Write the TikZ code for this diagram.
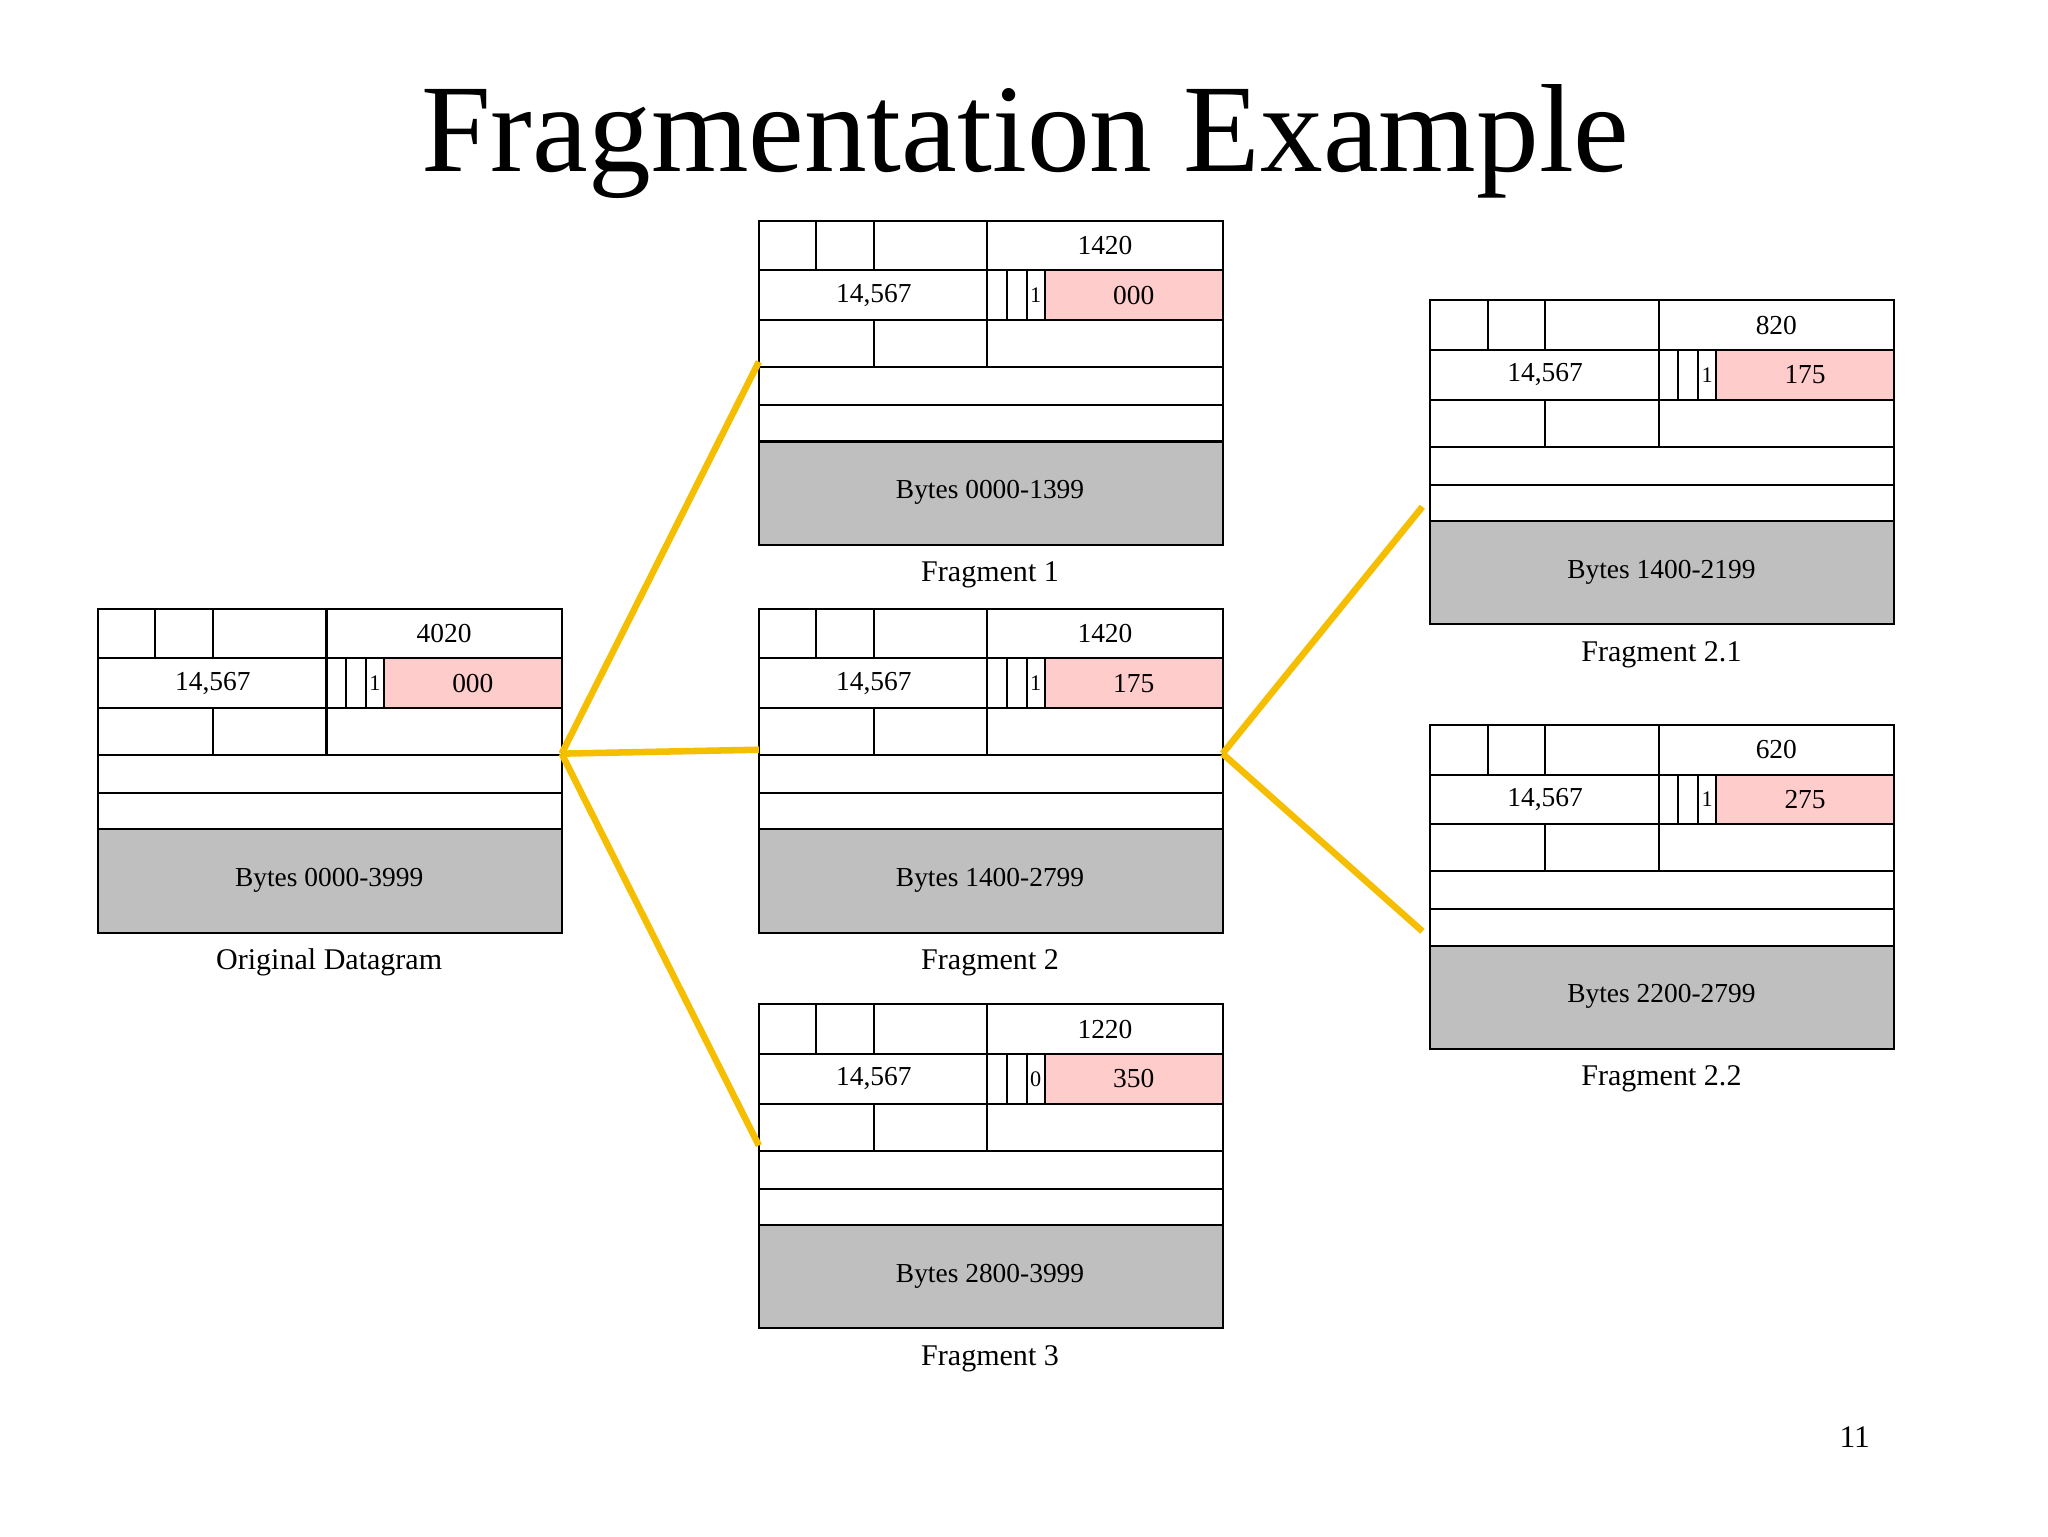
\documentclass[tikz,border=0pt]{standalone}
\usepackage{fontspec}
\setmainfont{Liberation Serif}
\usetikzlibrary{positioning}

\definecolor{linkyellow}{HTML}{F5BE00}
\definecolor{datagrey}{HTML}{BFBFBF}
\definecolor{offpink}{HTML}{FFCCCC}

% one header+data block: name, x, y, total length, flag, offset, bytes, caption
\newcommand{\datagram}[8]{%
  \begin{scope}[shift={(#2,#3)}]
    \fill[offpink] (219,38) rectangle (355,76);
    \fill[datagrey] (0,169) rectangle (355,248);
    \draw[field] (0,0) rectangle (355,248);
    \foreach \y in {38,76,112,141,169} {\draw[field] (0,\y) -- (355,\y);}
    \foreach \x in {44,88,175} {\draw[field] (\x,0) -- (\x,38);}
    \foreach \x in {175,190,205,219} {\draw[field] (\x,38) -- (\x,76);}
    \foreach \x in {88,175} {\draw[field] (\x,76) -- (\x,112);}
    \node[txt] (#1-len) at (265,19) {#4};
    \node[txt] (#1-id) at (88,57) {14,567};
    \node[txt, font=\fontsize{17}{17}\selectfont] (#1-mf) at (212,57) {#5};
    \node[txt] (#1-off) at (287,57) {#6};
    \node[txt] (#1-data) at (177,208) {#7};
    \node[txt, font=\fontsize{23}{23}\selectfont] (#1-cap) at (177,271) {#8};
    \coordinate (#1-out) at (355,111);
    \coordinate (#1-in) at (0,108);
    \coordinate (#1-inb) at (-6,158);
  \end{scope}}

\begin{document}
\begin{tikzpicture}[
    x=1pt, y=-1pt,
    % Styles
    field/.style={% header grid lines
        line width=1.6pt,
        },
    txt/.style={% text in the fields
        inner sep=0pt,
        font=\fontsize{21}{21}\selectfont,
        },
    link/.style={% yellow fragment links
        linkyellow,
        line width=5pt,
        },
    ]
    \useasboundingbox (0,0) rectangle (1568,1176);

    \node[font=\fontsize{96}{96}\selectfont] (title) at (785,108) {Fragmentation Example};

    % Draw the datagrams
    \datagram{orig}{75}{466}{4020}{1}{000}{Bytes 0000-3999}{Original Datagram}
    \datagram{f1}{581}{169}{1420}{1}{000}{Bytes 0000-1399}{Fragment 1}
    \datagram{f2}{581}{466}{1420}{1}{175}{Bytes 1400-2799}{Fragment 2}
    \datagram{f3}{581}{769}{1220}{0}{350}{Bytes 2800-3999}{Fragment 3}
    \datagram{f21}{1095}{230}{820}{1}{175}{Bytes 1400-2199}{Fragment 2.1}
    \datagram{f22}{1095}{555}{620}{1}{275}{Bytes 2200-2799}{Fragment 2.2}

    % Links
    \draw[link] (orig-out) -- (f1-in);
    \draw[link] (orig-out) -- (f2-in);
    \draw[link] (orig-out) -- (f3-in);
    \draw[link] (f2-out) -- (f21-inb);
    \draw[link] (f2-out) -- (f22-inb);

    \node[font=\fontsize{24}{24}\selectfont] (page) at (1420,1100) {11};
\end{tikzpicture}
\end{document}
